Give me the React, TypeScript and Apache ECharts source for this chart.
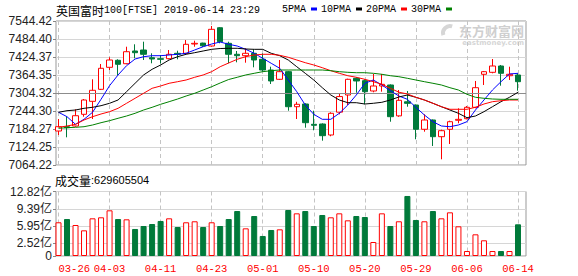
import React, { useEffect, useRef } from 'react';
import * as echarts from 'echarts';

const dates = ['03-26','03-27','03-28','03-29','04-01','04-02','04-03','04-04','04-05','04-08','04-09','04-10','04-11','04-12','04-15','04-16','04-17','04-18','04-23','04-24','04-25','04-26','04-29','04-30','05-01','05-02','05-03','05-07','05-08','05-09','05-10','05-13','05-14','05-15','05-16','05-17','05-20','05-21','05-22','05-23','05-24','05-28','05-29','05-30','05-31','06-03','06-04','06-05','06-06','06-07','06-10','06-11','06-12','06-13','06-14'];

const opens = [7177.6,7191.9,7194.3,7233.3,7276.6,7316.6,7390,7413.4,7402,7444.4,7447.7,7422,7418.7,7418.7,7436.7,7436.7,7467.7,7470.7,7461,7522,7470,7433.4,7428.7,7436.7,7416.7,7381,7350,7375.4,7258.6,7267.6,7200,7200.9,7164.3,7240.4,7297.7,7353.3,7345.4,7311,7327.7,7331,7228,7275,7264.3,7183.3,7214.3,7158.6,7183.3,7213.3,7218.6,7256.6,7366.7,7373.3,7394.4,7362,7364.4];
const closes = [7191.9,7188.6,7228.6,7281,7313.3,7386.7,7414.4,7400,7442,7438.7,7433.4,7417.7,7416.7,7433.4,7433.4,7466.7,7470,7461.7,7516.7,7475.4,7433.4,7428.7,7436.7,7414.4,7381,7344.4,7375.4,7258.6,7266.6,7205.3,7196.6,7162,7236.6,7292.4,7350,7344.4,7308.7,7327.7,7333.3,7225.3,7280,7269.9,7183.3,7214.3,7158.6,7178.6,7208.6,7216.5,7256.6,7322,7375.4,7394.4,7370,7366.7,7342];
const lows = [7164.3,7156.6,7191.9,7225.3,7217.6,7314.3,7381,7364.4,7400,7420,7414.4,7403.4,7403,7416.7,7416.7,7433.4,7458.7,7458,7458.7,7470,7403.4,7406.7,7405.4,7390,7375.4,7334.3,7347.7,7245.3,7217.6,7188.6,7180,7145.3,7160,7233.3,7264.3,7305.3,7266.6,7306.7,7308.7,7208.6,7225,7258.6,7150,7175.3,7127.6,7083.2,7134.3,7203.3,7216.6,7253.3,7331,7370,7328.7,7347.7,7312];
const highs = [7217.6,7225.3,7250,7284.3,7350,7401,7423.4,7416.7,7458.7,7466.7,7475.4,7436.7,7431,7447.7,7445.4,7481,7478.7,7472,7527.8,7524,7475.4,7444.4,7453.4,7450,7436.7,7392,7414.4,7378,7275,7270,7245.3,7203,7240,7301,7352,7357,7350,7367.7,7367.7,7333,7314.3,7311,7266,7233.3,7216,7182,7212,7253.3,7261,7344.4,7377.7,7417.7,7397.7,7392,7370];

// volume in 亿
const volumes = [6.70,7.35,6.16,5.10,7.49,7.69,9.08,7.35,7.29,5.37,5.96,6.36,6.96,7.49,5.76,6.70,6.90,5.76,6.70,5.96,7.35,8.94,5.50,7.95,3.98,5.17,5.30,9.14,8.48,8.94,5.96,8.15,7.69,8.48,7.09,7.95,7.75,2.78,8.48,5.96,6.90,11.93,7.16,6.90,8.94,7.49,8.68,5.90,0.99,4.31,3.12,0.99,0.99,0.99,6.30];

const ma5 = [7240,7225.3,7199.9,7216.6,7240,7283.3,7328.7,7364.4,7395.4,7417.7,7425.4,7428.7,7428.7,7431,7433.4,7436.7,7447.7,7458.7,7467.7,7474.4,7466.7,7461,7450,7436.7,7420,7403.4,7386.7,7347.7,7308.7,7264.3,7233.3,7216.6,7216.6,7236.6,7264.3,7297.7,7336.7,7347.7,7331,7312,7294.3,7283.3,7256.6,7231,7208.6,7194.3,7191.9,7197.6,7208.6,7247.6,7281,7314.3,7342,7367.7,7370];
const ma10 = [7240,7245.3,7247.6,7253.3,7256.6,7262,7270,7281,7308.7,7336.7,7364.4,7383.4,7397.7,7414.4,7425.4,7433.4,7438.7,7444.4,7450,7452.7,7453.4,7453.4,7451,7450,7450,7436.7,7428.7,7414.4,7392,7370,7347.7,7322,7297.7,7281,7272,7272,7267.6,7270,7273.3,7281,7291,7297.7,7290,7281,7270,7258.6,7247.6,7236.6,7222,7227.6,7242,7258.6,7275.3,7290,7306.7];
const ma20 = [7189.9,7194.3,7199.9,7214.3,7225.3,7234.3,7242,7253.3,7270,7286.7,7303.3,7320,7327.7,7336.7,7342,7347.7,7356.7,7364.4,7375.4,7392,7404.4,7416.7,7425.4,7431,7433.4,7433.4,7430,7423.4,7414.4,7405.4,7397.7,7388.7,7378.7,7370,7362,7356.7,7350,7342,7333.3,7320,7307,7301,7290,7281,7270,7258.6,7250,7250,7250,7256.6,7267.6,7275.3,7278.6,7281,7281];
const ma30 = [7186.6,7188.6,7189.9,7191.9,7197.6,7205.3,7212,7220,7227.6,7236.6,7247.6,7256.6,7266.6,7275.3,7284.3,7294.3,7303.3,7314.3,7325.3,7337.7,7349.3,7356.7,7364.4,7370,7375.4,7378.7,7381,7381,7381,7381,7381,7381,7378.7,7375.4,7373.3,7372,7372,7370,7366.7,7362,7358.7,7353.3,7347.7,7342,7336.7,7331,7322,7314.3,7300,7290,7286.7,7284.3,7283.3,7283.3,7283.3];

const priceTicks = [7064.22, 7124.25, 7184.27, 7244.30, 7304.32, 7364.35, 7424.37, 7484.40, 7544.42];
const volumeTicks = [0, 2.52, 5.95, 9.39, 12.82];

const titleCjk = '英国富时';
const titleAscii = '100[FTSE] 2019-06-14 23:29';
const volumeTitle = '成交量';
const latestVolume = '629605504';
const maNames = ['5PMA', '10PMA', '20PMA', '30PMA'];
const maColors = ['#0000ff', '#000000', '#ff0000', '#008000'];
const watermarkCn = '东方财富网';
const watermarkEn = 'eastmoney.com';

const UP = '#ff0000';
const DOWN = '#007a3a';
const FRAME = '#999999';
const GRIDLINE = '#d6d6d6';
const DASH = '#c4c4c4';

export default function App() {
  const ref = useRef<HTMLDivElement>(null);
  useEffect(() => {
    const chart = echarts.init(ref.current!, null, { renderer: 'svg' });
    const candleData = dates.map((_, i) => [opens[i], closes[i], lows[i], highs[i]]);
    const volData = volumes.map((v, i) => ({
      value: v,
      itemStyle: closes[i] >= opens[i]
        ? { color: '#ffffff', borderColor: UP, borderWidth: 1 }
        : { color: DOWN, borderColor: DOWN, borderWidth: 1 },
    }));
    const maSeries = [ma5, ma10, ma20, ma30];
    const pMin = priceTicks[0];
    const pMax = priceTicks[priceTicks.length - 1];
    const vMax = volumeTicks[volumeTicks.length - 1];

    const hiddenCat = (gi: number, showLabel: boolean) => ({
      gridIndex: gi,
      type: 'category',
      data: dates,
      boundaryGap: false,
      axisLine: { show: false },
      axisTick: { show: false, interval: 5 },
      axisLabel: showLabel
        ? { show: true, interval: 5, color: UP, fontFamily: 'Liberation Mono', fontSize: 10.5, margin: 7, alignMinLabel: 'left' }
        : { show: false, interval: 5 },
      splitLine: { show: true, interval: 5, lineStyle: { color: DASH, type: [4, 3], width: 1 } },
    });

    const option: any = {
      animation: false,
      backgroundColor: '#ffffff',
      legend: {
        data: maNames,
        left: 282,
        top: 4,
        align: 'right',
        icon: 'rect',
        itemWidth: 6,
        itemHeight: 3,
        itemGap: 4,
        selectedMode: false,
        padding: 0,
        textStyle: { fontFamily: 'Liberation Mono', fontSize: 10, color: '#000' },
      },
      grid: [
        { left: 56, top: 21, width: 470, height: 144, show: true, borderColor: FRAME, borderWidth: 1, outerBoundsMode: 'none' },
        { left: 58.5, top: 21, width: 459.5, height: 144, show: false, outerBoundsMode: 'none' },
        { left: 56, top: 191.5, width: 470, height: 64.5, show: true, borderColor: FRAME, borderWidth: 1, outerBoundsMode: 'none' },
        { left: 58.5, top: 191.5, width: 459.5, height: 64.5, show: false, outerBoundsMode: 'none' },
      ],
      xAxis: [
        { gridIndex: 0, type: 'value', min: 0, max: 1, show: false },
        hiddenCat(1, false),
        { gridIndex: 2, type: 'value', min: 0, max: 1, show: false },
        hiddenCat(3, true),
      ],
      yAxis: [
        {
          gridIndex: 0, type: 'value', min: pMin, max: pMax,
          axisLine: { show: false },
          axisTick: { show: true, length: 3, customValues: priceTicks, lineStyle: { color: '#888' } },
          axisLabel: { customValues: priceTicks, formatter: (v: number) => v.toFixed(2), fontFamily: 'Liberation Sans', fontSize: 12, color: '#222', margin: 4 },
          splitLine: { show: true, lineStyle: { color: GRIDLINE, width: 1 } },
        },
        { gridIndex: 1, type: 'value', min: pMin, max: pMax, show: false, splitLine: { show: false } },
        {
          gridIndex: 2, type: 'value', min: 0, max: vMax,
          axisLine: { show: false },
          axisTick: { show: true, length: 3, customValues: volumeTicks, lineStyle: { color: '#888' } },
          axisLabel: { customValues: volumeTicks, formatter: (v: number) => (v === 0 ? '0' : v.toFixed(2) + '亿'), fontFamily: 'Liberation Sans, Noto Sans CJK SC', fontSize: 12, color: '#222', margin: 4 },
          splitLine: { show: true, lineStyle: { color: GRIDLINE, width: 1 } },
        },
        { gridIndex: 3, type: 'value', min: 0, max: vMax, show: false, splitLine: { show: false } },
      ],
      series: [
        {
          type: 'line', name: 'midline', xAxisIndex: 0, yAxisIndex: 0, data: [],
          markLine: {
            silent: true, symbol: ['none', 'none'], label: { show: false },
            lineStyle: { color: '#8c8c8c', type: 'solid', width: 1 },
            data: [{ yAxis: priceTicks[4] }],
          },
        },
        {
          type: 'candlestick', name: 'K', xAxisIndex: 1, yAxisIndex: 1,
          data: candleData, barWidth: 6, clip: false,
          itemStyle: { color: '#ffffff', color0: DOWN, borderColor: UP, borderColor0: DOWN, borderWidth: 1 },
        },
        ...maSeries.map((d, k) => ({
          type: 'line', name: maNames[k], xAxisIndex: 1, yAxisIndex: 1,
          data: d, symbol: 'none', showSymbol: false, smooth: false, z: 5,
          lineStyle: { color: maColors[k], width: 1 },
          itemStyle: { color: maColors[k] },
        })),
        {
          type: 'bar', name: 'vol', xAxisIndex: 3, yAxisIndex: 3,
          data: volData, barWidth: 6, clip: false,
        },
      ],
      graphic: [
        {
          type: 'text', x: 56, y: 10,
          style: {
            text: `{c|${titleCjk}}{a|${titleAscii}}`,
            verticalAlign: 'middle',
            rich: {
              c: { fontFamily: 'Noto Sans CJK SC', fontSize: 12, fill: '#000' },
              a: { fontFamily: 'Liberation Mono', fontSize: 10, fill: '#000' },
            },
          },
        },
        {
          type: 'text', x: 55, y: 180,
          style: {
            text: `{c|${volumeTitle}}{a|:${latestVolume}}`,
            verticalAlign: 'middle',
            rich: {
              c: { fontFamily: 'Noto Sans CJK SC', fontSize: 12, fill: '#000' },
              a: { fontFamily: 'Liberation Sans', fontSize: 11, fill: '#000' },
            },
          },
        },
        {
          type: 'text', x: 524, y: 30, z: -1,
          style: { text: watermarkCn, align: 'right', verticalAlign: 'middle', fontFamily: 'Noto Sans CJK SC', fontWeight: 'bold', fontSize: 13, lineHeight: 13, fill: '#cfcfcf' },
        },
        {
          type: 'text', x: 524, y: 43, z: -1,
          style: { text: watermarkEn, align: 'right', verticalAlign: 'middle', fontFamily: 'DejaVu Sans', fontWeight: 'bold', fontSize: 7, lineHeight: 7, fill: '#d6d6d6' },
        },
        {
          type: 'sector', z: -1,
          shape: { cx: 450, cy: 33, r: 9, r0: 5, startAngle: Math.PI * 0.9, endAngle: Math.PI * 1.6 },
          style: { fill: '#d6d6d6' },
        },
      ],
    };
    chart.setOption(option);
    return () => chart.dispose();
  }, []);
  return <div ref={ref} style={{ position: 'absolute', left: 0, top: 0, width: 578, height: 276 }} />;
}
